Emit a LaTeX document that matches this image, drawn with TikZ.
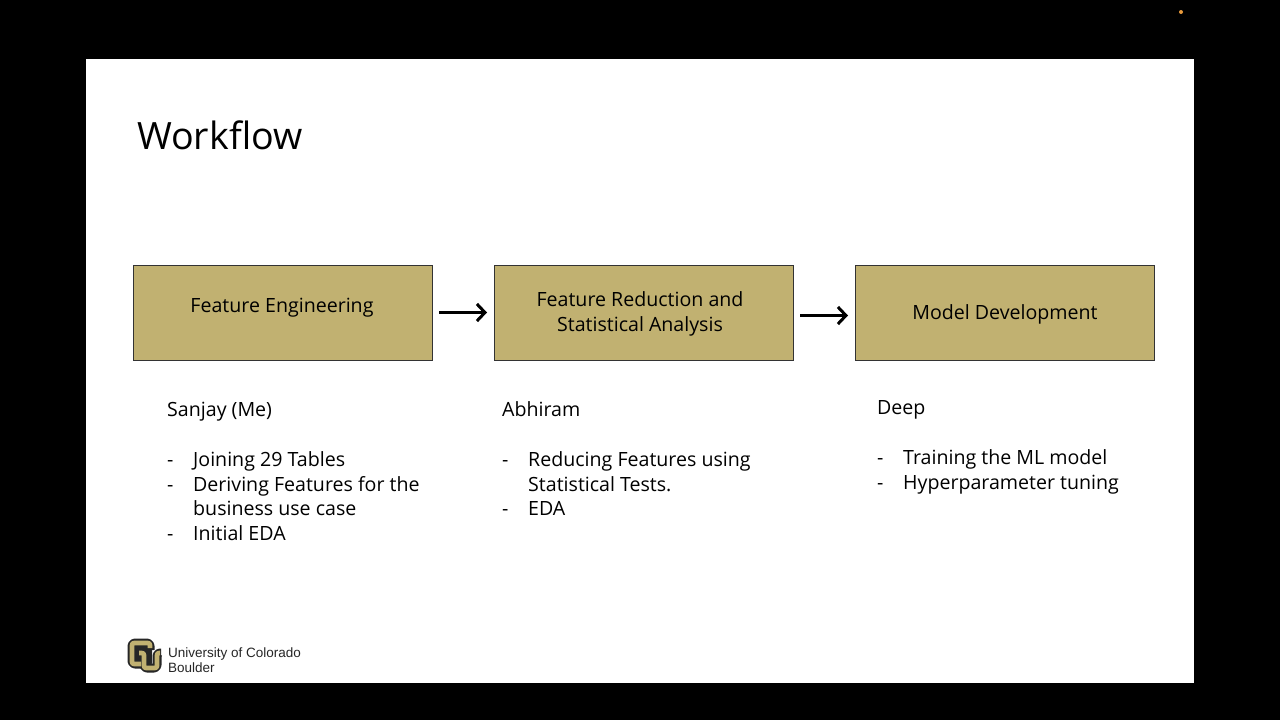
\documentclass[tikz,border=0pt]{standalone}
\usepackage{fontspec}
\setmainfont{Open Sans}
\newfontfamily\logofont{Liberation Sans}
\usetikzlibrary{arrows.meta,positioning}
\definecolor{cugold}{HTML}{C1B171}
\definecolor{dotorange}{HTML}{E89A3C}
\newcommand{\mybody}{\fontsize{19.6}{24.6}\selectfont}
\tikzset{
    stepsty/.style={draw=black!80,fill=cugold,rectangle,minimum width=299pt,minimum height=95pt,line width=0.8pt,outer sep=0pt,inner sep=0pt},
    boxtxtsty/.style={align=center,font=\mybody,inner sep=0pt},
    linesty/.style={anchor=base west,font=\mybody,inner sep=0pt},
    arrowsty/.style={-{Straight Barb[length=8pt,width=17pt,line width=3pt]},line width=3pt,shorten <=7pt,shorten >=7pt},
    logoosty/.style={line width=9pt,black!85,line join=round,rounded corners=3pt},
    logoisty/.style={line width=4.6pt,cugold,line join=round,rounded corners=2pt},
}
\begin{document}
\begin{tikzpicture}[x=1pt,y=-1pt]
  \fill[black] (0,0) rectangle (1280,720);
  \useasboundingbox (0,0) rectangle (1280,720);
  \fill[white] (86,59) rectangle (1194,683);
  \fill[dotorange] (1181,12) circle (2);

  \node[anchor=base west,inner sep=0pt,font=\fontsize{37.6}{40}\selectfont] (title) at (137,149) {Workflow};

  % boxes
  \node[stepsty,anchor=north west] (fe) at (133,265) {};
  \node[stepsty,anchor=north west] (fr) at (494,265) {};
  \node[stepsty,anchor=north west] (md) at (855,265) {};
  \node[boxtxtsty] (fetxt) at (282,308) {Feature Engineering};
  \node[boxtxtsty] (frtxt) at (640,314) {Feature Reduction and\\Statistical Analysis};
  \node[boxtxtsty] (mdtxt) at (1005,314) {Model Development};

  \draw[arrowsty] (fe) -- (fr);
  \draw[arrowsty] ([yshift=-3pt]fr.east) -- ([yshift=-3pt]md.west);

  % first column
  \node[linesty] (a0) at (167,416) {Sanjay (Me)};
  \node[linesty] (ad1) at (167,466) {-};
  \node[linesty] (a1) at (193,466) {Joining 29 Tables};
  \node[linesty] (ad2) at (167,491) {-};
  \node[linesty] (a2) at (193,491) {Deriving Features for the};
  \node[linesty] (a3) at (193,515) {business use case};
  \node[linesty] (ad4) at (167,540) {-};
  \node[linesty] (a4) at (193,540) {Initial EDA};

  % second column
  \node[linesty] (b0) at (502,416) {Abhiram};
  \node[linesty] (bd1) at (502,466) {-};
  \node[linesty] (b1) at (528,466) {Reducing Features using};
  \node[linesty] (b2) at (528,491) {Statistical Tests.};
  \node[linesty] (bd3) at (502,515) {-};
  \node[linesty] (b3) at (528,515) {EDA};

  % third column
  \node[linesty] (c0) at (877,414) {Deep};
  \node[linesty] (cd1) at (877,464) {-};
  \node[linesty] (c1) at (903,464) {Training the ML model};
  \node[linesty] (cd2) at (877,489) {-};
  \node[linesty] (c2) at (903,489) {Hyperparameter tuning};

  % logo
  \fill[black!85,rounded corners=3pt] (133,646) rectangle (152,666);
  \draw[logoosty] (150,650) -- (150,643) -- (132,643) -- (132,664) -- (143,664);
  \draw[logoosty] (138,653) -- (144,653) -- (144,668) -- (157,668) -- (157,653) -- (161,653);
  \draw[logoisty] (150,648) -- (150,643) -- (132,643) -- (132,664) -- (141,664);
  \draw[logoisty] (139,653) -- (144,653) -- (144,668) -- (157,668) -- (157,653) -- (160,653);
  \node[anchor=base west,inner sep=0pt,text=black!85,font=\logofont\fontsize{13.5}{15}\selectfont] (uni) at (168,657) {University of Colorado};
  \node[anchor=base west,inner sep=0pt,text=black!85,font=\logofont\fontsize{13.5}{15}\selectfont] (bou) at (168,672) {Boulder};
\end{tikzpicture}
\end{document}
